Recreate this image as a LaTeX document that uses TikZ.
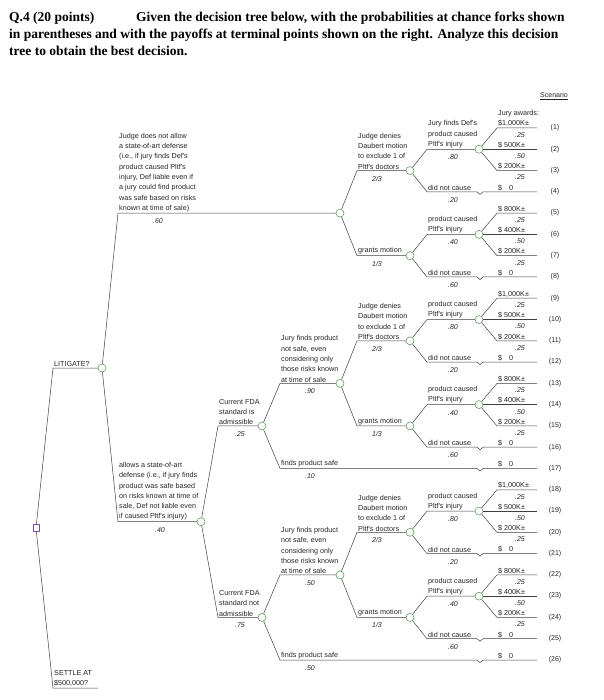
\documentclass[tikz,border=0pt]{standalone}
\usepackage{fontspec}
\setmainfont{Liberation Serif}
\newfontfamily\arial{Liberation Sans}
\def\Y#1{{128+(#1-1)*21.28}}
\tikzset{
  ln/.style={draw=black!75, line width=0.5pt},
  chance/.style={circle, draw=green!40!black!70, fill=white, line width=0.5pt, minimum size=8pt, inner sep=0pt},
  decis/.style={rectangle, draw=blue!70!red!70, line width=0.6pt, minimum width=6pt, minimum height=7.5pt, inner sep=0pt},
  lbl/.style={anchor=south west, align=left, inner sep=1pt, font=\arial\fontsize{7.2}{10.3}\selectfont, text=black!85},
  prob/.style={inner sep=0pt, font=\arial\itshape\fontsize{7}{8}\selectfont, text=black!85},
  scen/.style={inner sep=0pt, font=\arial\fontsize{7}{8}\selectfont, text=black!85},
  hdr/.style={anchor=base west, inner sep=0pt, font=\bfseries\fontsize{13.5}{16}\selectfont}
}
% F group: #1 name of F node, #2 index k, #3 label, #4 pup, #5 pdown, #6-#8 amounts
\newcommand\Fgroup[8]{%
  \coordinate (#1s) at (427,\Y{#2-1});
  \node[chance] (#1g) at (479,\Y{#2-1}) {};
  \coordinate (#1ds) at (427,\Y{#2+1});
  \coordinate (#1de) at (537,\Y{#2+1});
  \draw[ln] (#1) -- (#1s) -- (#1g);
  \draw[ln] (#1) -- (#1ds) -- (477,\Y{#2+1}) -- (480,{128+(#2)*21.28+2.5}) -- (483,\Y{#2+1}) -- (#1de);
  \node[lbl] at (#1s) {#3};
  \node[prob] at ([xshift=26pt,yshift=-8pt]#1s) {#4};
  \node[lbl] at (#1ds) {did not cause};
  \node[prob] at ([xshift=26pt,yshift=-8pt]#1ds) {#5};
  \coordinate (#1a) at (497,\Y{#2-2}); \coordinate (#1ae) at (537,\Y{#2-2});
  \coordinate (#1b) at (497,\Y{#2-1}); \coordinate (#1be) at (537,\Y{#2-1});
  \coordinate (#1c) at (497,\Y{#2}); \coordinate (#1ce) at (537,\Y{#2});
  \draw[ln] (#1g) -- (#1a) -- (#1ae);
  \draw[ln] (#1g) -- (#1be);
  \draw[ln] (#1g) -- (#1c) -- (#1ce);
  \node[lbl] at (#1a) {#6};
  \node[lbl] at (#1b) {#7};
  \node[lbl] at (#1c) {#8};
  \node[prob] at ([xshift=-17pt,yshift=-7pt]#1ae) {.25};
  \node[prob] at ([xshift=-17pt,yshift=-7pt]#1be) {.50};
  \node[prob] at ([xshift=-17pt,yshift=-7pt]#1ce) {.25};
  \node[lbl] at ([xshift=-40pt]#1de) {\$\hspace{7pt}0};
}
\begin{document}
\begin{tikzpicture}[x=1pt,y=-1pt]
\useasboundingbox (0,0) rectangle (603,700);
\fill[white] (0,0) rectangle (603,700);
% header
\node[hdr] (h1) at (9,22) {Q.4 (20 points)};
\node[hdr] (h1b) at (136,22) {Given the decision tree below, with the probabilities at chance forks shown};
\node[hdr] (h2) at (9,39) {in parentheses and with the payoffs at terminal points shown on the right. Analyze this decision};
\node[hdr] (h3) at (9,56) {tree to obtain the best decision.};
\node[scen] (sc) at (554,96) {\underline{Scenario}};
% root
\node[decis] (R) at (36,528) {};
\node[chance] (L) at (102,368) {};
\coordinate (Ls) at (53,368);
\coordinate (Ss) at (53,688); \coordinate (Se) at (98,688);
\draw[ln] (R) -- (Ls) -- (L);
\draw[ln] (R) -- (Ss) -- (Se);
\node[lbl] at (Ls) {LITIGATE?};
\node[lbl] at (Ss) {SETTLE AT\\\$500,000?};
% upper branch
\node[chance] (A) at (340,\Y5) {};
\coordinate (As) at (118,\Y5);
\draw[ln] (L) -- (As) -- (A);
\node[lbl] at (As) {Judge does not allow\\a state-of-art defense\\(i.e., if jury finds Def's\\product caused Pltf's\\injury, Def liable even if\\a jury could find product\\was safe based on risks\\known at time of sale)};
\node[prob] at ([xshift=40pt,yshift=-8pt]As) {.60};
\node[chance] (Fa) at (410,\Y3) {};
\coordinate (Fas) at (357,\Y3);
\draw[ln] (A) -- (Fas) -- (Fa);
\node[lbl] at (Fas) {Judge denies\\Daubert motion\\to exclude 1 of\\Pltf's doctors};
\node[prob] at ([xshift=20pt,yshift=-8pt]Fas) {2/3};
\node[chance] (Fb) at (410,\Y7) {};
\coordinate (Fbs) at (357,\Y7);
\draw[ln] (A) -- (Fbs) -- (Fb);
\node[lbl] at (Fbs) {grants motion};
\node[prob] at ([xshift=20pt,yshift=-8pt]Fbs) {1/3};
\Fgroup{Fa}{3}{Jury finds Def's\\product caused\\Pltf's injury}{.80}{.20}{Jury awards:\\\$1,000K±}{\$ 500K±}{\$ 200K±}
\Fgroup{Fb}{7}{product caused\\Pltf's injury}{.40}{.60}{\$ 800K±}{\$ 400K±}{\$ 200K±}
% lower branch
\node[chance] (C) at (201,\Y{19.5}) {};
\coordinate (Cs) at (118,\Y{19.5});
\draw[ln] (L) -- (Cs) -- (C);
\node[lbl] at (Cs) {allows a state-of-art\\defense (i.e., if jury finds\\product was safe based\\on risks known at time of\\sale, Def not liable even\\if caused Pltf's injury)};
\node[prob] at ([xshift=42pt,yshift=-8pt]Cs) {.40};
% D nodes
\node[chance] (D1) at (262,\Y{15}) {};
\coordinate (D1s) at (218,\Y{15});
\draw[ln] (C) -- (D1s) -- (D1);
\node[lbl] at (D1s) {Current FDA\\standard is\\admissible};
\node[prob] at ([xshift=22pt,yshift=-8pt]D1s) {.25};
\node[chance] (D2) at (262,\Y{24}) {};
\coordinate (D2s) at (218,\Y{24});
\draw[ln] (C) -- (D2s) -- (D2);
\node[lbl] at (D2s) {Current FDA\\standard not\\admissible};
\node[prob] at ([xshift=22pt,yshift=-8pt]D2s) {.75};
% E nodes and safe branches
\foreach \d/\e/\k/\s/\pe/\ps in {D1/E1/13/17/.90/.10, D2/E2/22/26/.50/.50}{
  \node[chance] (\e) at (340,\Y{\k}) {};
  \coordinate (\e s) at (280,\Y{\k});
  \draw[ln] (\d) -- (\e s) -- (\e);
  \node[lbl] at (\e s) {Jury finds product\\not safe, even\\considering only\\those risks known\\at time of sale};
  \node[prob] at ([xshift=30pt,yshift=-8pt]\e s) {\pe};
  \coordinate (\e t) at (280,\Y{\s});
  \coordinate (\e te) at (537,\Y{\s});
  \draw[ln] (\d) -- (\e t) -- (477,\Y{\s}) -- (480,{128+(\s-1)*21.28+2.5}) -- (483,\Y{\s}) -- (\e te);
  \node[lbl] at (\e t) {finds product safe};
  \node[prob] at ([xshift=30pt,yshift=-8pt]\e t) {\ps};
  \node[lbl] at ([xshift=-40pt]\e te) {\$\hspace{7pt}0};
}
% F nodes lower
\foreach \e/\f/\k in {E1/Fc/11, E1/Fd/15, E2/Fe/20, E2/Ff/24}{
  \node[chance] (\f) at (410,\Y{\k}) {};
  \coordinate (\f s0) at (357,\Y{\k});
  \draw[ln] (\e) -- (\f s0) -- (\f);
}
\node[lbl] at (Fcs0) {Judge denies\\Daubert motion\\to exclude 1 of\\Pltf's doctors};
\node[prob] at ([xshift=20pt,yshift=-8pt]Fcs0) {2/3};
\node[lbl] at (Fds0) {grants motion};
\node[prob] at ([xshift=20pt,yshift=-8pt]Fds0) {1/3};
\node[lbl] at (Fes0) {Judge denies\\Daubert motion\\to exclude 1 of\\Pltf's doctors};
\node[prob] at ([xshift=20pt,yshift=-8pt]Fes0) {2/3};
\node[lbl] at (Ffs0) {grants motion};
\node[prob] at ([xshift=20pt,yshift=-8pt]Ffs0) {1/3};
\Fgroup{Fc}{11}{product caused\\Pltf's injury}{.80}{.20}{\$1,000K±}{\$ 500K±}{\$ 200K±}
\Fgroup{Fd}{15}{product caused\\Pltf's injury}{.40}{.60}{\$ 800K±}{\$ 400K±}{\$ 200K±}
\Fgroup{Fe}{20}{product caused\\Pltf's injury}{.80}{.20}{\$1,000K±}{\$ 500K±}{\$ 200K±}
\Fgroup{Ff}{24}{product caused\\Pltf's injury}{.40}{.60}{\$ 800K±}{\$ 400K±}{\$ 200K±}
% scenario numbers
\foreach \i in {1,...,26}{ \node[scen] (n\i) at (555,\Y{\i}) {(\i)}; }
\end{tikzpicture}
\end{document}
